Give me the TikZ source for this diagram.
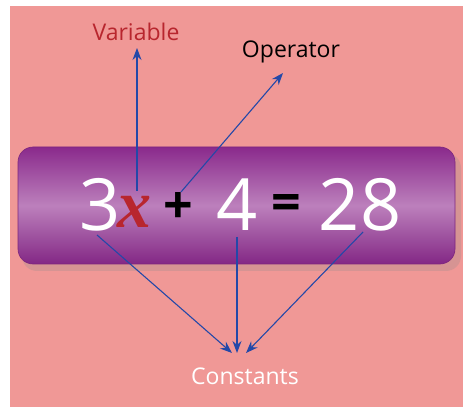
\documentclass[tikz,border=0pt]{standalone}
\usepackage{fontspec}
\usepackage{tikz}
\usepackage{xcolor}
\setmainfont{Open Sans}
\newfontfamily\varfont{Liberation Serif}
\usetikzlibrary{arrows.meta}

\definecolor{pinkbg}{HTML}{F09896}
\definecolor{barpurple}{HTML}{8A2A8C}
\definecolor{barlight}{HTML}{BC80BC}
\definecolor{arrowblue}{HTML}{2448A8}
\definecolor{varred}{HTML}{B8262E}

\begin{document}
\begin{tikzpicture}[x=1pt,y=-1pt]%
  \tikzstyle{digit}=[text=white,font=\fontsize{72}{72}\selectfont,inner sep=0]
  \tikzstyle{lbl}=[font=\fontsize{23}{23}\selectfont,inner sep=1]
  \tikzstyle{pointer}=[draw=arrowblue,line width=1.1pt,-{Stealth[length=12pt,width=9pt]}]
  \useasboundingbox (0,0) rectangle (474,414);
  \fill[white] (0,0) rectangle (474,414);
  \fill[pinkbg] (10,6) rectangle (463,407);
  % the bar
  \fill[black!45,opacity=0.25,rounded corners=15pt] (22,153) rectangle (461,271);
  \shade[rounded corners=15pt,top color=barpurple,bottom color=barpurple!95!black,middle color=barlight,
    draw=barpurple!90!black,line width=0.6pt] (18,147) rectangle (455,264);
  % arrows
  \draw[pointer] (137,191) -- (137,48);
  \draw[pointer] (181,192) -- (283,73);
  \coordinate(meet) at (237,353);
  \draw[pointer] (97,235) -- ([xshift=-5pt]meet);
  \draw[pointer] (237,237) -- (meet);
  \draw[pointer] (363,232) -- ([xshift=9pt]meet);
  % the equation
  \node(n3)[digit] at (100,205) {3};
  \node(nx)[digit,text=varred,font=\fontsize{68}{68}\varfont\itshape\bfseries] at (134,212) {x};
  \node(nplus)[digit,text=black,font=\fontsize{52}{52}\selectfont\bfseries] at (178,208) {+};
  \node(n4)[digit] at (237,205) {4};
  \node(neq)[digit,text=black,font=\fontsize{52}{52}\selectfont\bfseries] at (286,208) {=};
  \node(n28)[digit] at (360,205) {28};
  % labels
  \node(var)[lbl,text=varred] at (136,32) {Variable};
  \node(op)[lbl] at (291,52) {Operator};
  \node(cons)[lbl,text=white] at (245,376) {Constants};
\end{tikzpicture}
\end{document}
